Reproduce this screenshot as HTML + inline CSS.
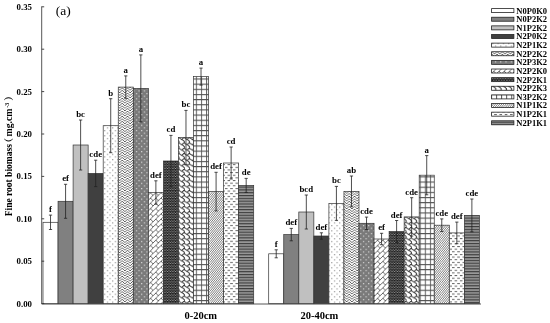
<!DOCTYPE html>
<html><head><meta charset="utf-8"><title>Fine root biomass</title>
<style>
html,body{margin:0;padding:0;background:#fff;}
body{width:550px;height:323px;overflow:hidden;}
svg{display:block;}
text{font-family:"Liberation Serif","Noto Serif CJK SC",serif;fill:#000;}
.b{font-weight:bold;}
</style></head><body>
<svg width="550" height="323" viewBox="0 0 550 323">
<defs>

<pattern id="p0" width="8" height="8" patternUnits="userSpaceOnUse"><rect width="8" height="8" fill="#fff"/></pattern>
<pattern id="p1" width="8" height="8" patternUnits="userSpaceOnUse"><rect width="8" height="8" fill="#808080"/></pattern>
<pattern id="p2" width="8" height="8" patternUnits="userSpaceOnUse"><rect width="8" height="8" fill="#c0c0c0"/></pattern>
<pattern id="p3" width="8" height="8" patternUnits="userSpaceOnUse"><rect width="8" height="8" fill="#404040"/></pattern>
<pattern id="p4" width="8" height="8" patternUnits="userSpaceOnUse" patternTransform="translate(1.2,0.6) scale(0.66)"><rect width="8" height="8" fill="#fff"/><rect x="0.3" y="0.3" width="1.4" height="1.4" fill="#555"/><rect x="4.3" y="4.3" width="1.4" height="1.4" fill="#555"/></pattern>
<pattern id="p5" width="8" height="4" patternUnits="userSpaceOnUse" patternTransform="translate(0.8,0) scale(0.66,0.645)"><rect width="8" height="4" fill="#fff"/><path d="M-0.5,-0.5 L4,4 L8.5,-0.5 M-0.5,3.5 L0,4 M8,4 L8.5,3.5" fill="none" stroke="#3a3a3a" stroke-width="1.2"/></pattern>
<pattern id="p6" width="8" height="8" patternUnits="userSpaceOnUse" patternTransform="translate(1.2,0.6) scale(0.66)"><rect width="8" height="8" fill="#7a7a7a"/><rect x="0.2" y="0.2" width="1.5" height="1.5" fill="#fff"/><rect x="4.2" y="4.2" width="1.5" height="1.5" fill="#fff"/></pattern>
<pattern id="p7" width="8" height="8" patternUnits="userSpaceOnUse" patternTransform="scale(0.66)"><rect width="8" height="8" fill="#fff"/><path d="M-1,9 L9,-1 M4,4 L8,8" fill="none" stroke="#222" stroke-width="1.0"/></pattern>
<pattern id="p8" width="8" height="8" patternUnits="userSpaceOnUse" patternTransform="scale(0.66)"><rect width="8" height="8" fill="#161616"/><rect x="-1" y="1" width="2" height="1" fill="#d4d4d4"/><rect x="3" y="1" width="2" height="1" fill="#d4d4d4"/><rect x="7" y="1" width="2" height="1" fill="#d4d4d4"/><rect x="-1" y="5" width="2" height="1" fill="#d4d4d4"/><rect x="3" y="5" width="2" height="1" fill="#d4d4d4"/><rect x="7" y="5" width="2" height="1" fill="#d4d4d4"/><rect x="1" y="3" width="2" height="1" fill="#d4d4d4"/><rect x="5" y="3" width="2" height="1" fill="#d4d4d4"/><rect x="1" y="7" width="2" height="1" fill="#d4d4d4"/><rect x="5" y="7" width="2" height="1" fill="#d4d4d4"/></pattern>
<pattern id="p9" width="8" height="8" patternUnits="userSpaceOnUse" patternTransform="scale(0.66)"><rect width="8" height="8" fill="#fff"/><path d="M-1.5,0.5 L0.5,1.5 L3.5,3.5 L6.5,0.5 L8.5,1.5 M3.5,3.5 L5.5,4.5 L7.5,6.5 L7.5,8.5 M7.5,-1.5 L7.5,0.8" fill="none" stroke="#222" stroke-width="1.35" stroke-linejoin="round"/></pattern>
<pattern id="p10" width="8" height="8" patternUnits="userSpaceOnUse" patternTransform="translate(2.47,1.2) scale(0.636,0.644)"><rect width="8" height="8" fill="#fff"/><path d="M0.8,0 V8 M0,0.8 H8" fill="none" stroke="#505050" stroke-width="1.45"/></pattern>
<pattern id="p11" width="21.0" height="26.0" patternUnits="userSpaceOnUse"><rect width="21.0" height="26.0" fill="#fff"/><path d="M0,2.60 L2.10,0 M0,5.20 L4.20,0 M0,7.80 L6.30,0 M0,10.40 L8.40,0 M0,13.00 L10.50,0 M0,15.60 L12.60,0 M0,18.20 L14.70,0 M0,20.80 L16.80,0 M0,23.40 L18.90,0 M0,26.00 L21.00,0 M0,28.60 L23.10,0 M0,31.20 L25.20,0 M0,33.80 L27.30,0 M0,36.40 L29.40,0 M0,39.00 L31.50,0 M0,41.60 L33.60,0 M0,44.20 L35.70,0 M0,46.80 L37.80,0 M0,49.40 L39.90,0" fill="none" stroke="#333" stroke-width="0.62"/></pattern>
<pattern id="p12" width="8" height="8" patternUnits="userSpaceOnUse" patternTransform="translate(0.5,0.5) scale(0.66)"><rect width="8" height="8" fill="#fff"/><rect x="0" y="0" width="4" height="1.5" fill="#666"/><rect x="4" y="4" width="4" height="1.5" fill="#666"/></pattern>
<pattern id="p13" width="8" height="4" patternUnits="userSpaceOnUse" patternTransform="translate(0,0.4) scale(0.66,0.705)"><rect width="8" height="4" fill="#9c9c9c"/><rect y="0" width="8" height="1.7" fill="#3c3c3c"/></pattern>

</defs>
<rect width="550" height="323" fill="#fff"/>
<rect x="43.00" y="222.30" width="15.05" height="81.40" fill="url(#p0)" stroke="#333" stroke-width="0.7"/>
<rect x="58.05" y="201.30" width="15.05" height="102.40" fill="url(#p1)" stroke="#333" stroke-width="0.7"/>
<rect x="73.10" y="145.00" width="15.05" height="158.70" fill="url(#p2)" stroke="#333" stroke-width="0.7"/>
<rect x="88.15" y="173.40" width="15.05" height="130.30" fill="url(#p3)" stroke="#333" stroke-width="0.7"/>
<rect x="103.20" y="125.70" width="15.05" height="178.00" fill="url(#p4)" stroke="#333" stroke-width="0.7"/>
<rect x="118.25" y="87.10" width="15.05" height="216.60" fill="url(#p5)" stroke="#333" stroke-width="0.7"/>
<rect x="133.30" y="88.40" width="15.05" height="215.30" fill="url(#p6)" stroke="#333" stroke-width="0.7"/>
<rect x="148.35" y="192.50" width="15.05" height="111.20" fill="url(#p7)" stroke="#333" stroke-width="0.7"/>
<rect x="163.40" y="161.00" width="15.05" height="142.70" fill="url(#p8)" stroke="#333" stroke-width="0.7"/>
<rect x="178.45" y="137.40" width="15.05" height="166.30" fill="url(#p9)" stroke="#333" stroke-width="0.7"/>
<rect x="193.50" y="76.60" width="15.05" height="227.10" fill="url(#p10)" stroke="#333" stroke-width="0.7"/>
<rect x="208.55" y="191.60" width="15.05" height="112.10" fill="url(#p11)" stroke="#333" stroke-width="0.7"/>
<rect x="223.60" y="163.00" width="15.05" height="140.70" fill="url(#p12)" stroke="#333" stroke-width="0.7"/>
<rect x="238.65" y="185.40" width="15.05" height="118.30" fill="url(#p13)" stroke="#333" stroke-width="0.7"/>
<path d="M50.52,215.10 V229.50 M48.92,215.10 H52.12 M48.92,229.50 H52.12" stroke="#222" stroke-width="0.8" fill="none"/>
<text class="b" x="50.52" y="212.10" font-size="8.8" text-anchor="middle">f</text>
<path d="M65.58,184.30 V218.30 M63.98,184.30 H67.17 M63.98,218.30 H67.17" stroke="#222" stroke-width="0.8" fill="none"/>
<text class="b" x="65.58" y="181.30" font-size="8.8" text-anchor="middle">ef</text>
<path d="M80.62,120.00 V170.00 M79.03,120.00 H82.22 M79.03,170.00 H82.22" stroke="#222" stroke-width="0.8" fill="none"/>
<text class="b" x="80.62" y="117.00" font-size="8.8" text-anchor="middle">bc</text>
<path d="M95.68,160.20 V186.60 M94.08,160.20 H97.28 M94.08,186.60 H97.28" stroke="#222" stroke-width="0.8" fill="none"/>
<text class="b" x="95.68" y="157.20" font-size="8.8" text-anchor="middle">cde</text>
<path d="M110.73,98.70 V152.70 M109.13,98.70 H112.33 M109.13,152.70 H112.33" stroke="#222" stroke-width="0.8" fill="none"/>
<text class="b" x="110.73" y="95.70" font-size="8.8" text-anchor="middle">b</text>
<path d="M125.78,75.90 V98.30 M124.18,75.90 H127.38 M124.18,98.30 H127.38" stroke="#222" stroke-width="0.8" fill="none"/>
<text class="b" x="125.78" y="72.90" font-size="8.8" text-anchor="middle">a</text>
<path d="M140.83,54.90 V121.90 M139.23,54.90 H142.43 M139.23,121.90 H142.43" stroke="#222" stroke-width="0.8" fill="none"/>
<text class="b" x="140.83" y="51.90" font-size="8.8" text-anchor="middle">a</text>
<path d="M155.88,180.80 V204.20 M154.28,180.80 H157.48 M154.28,204.20 H157.48" stroke="#222" stroke-width="0.8" fill="none"/>
<text class="b" x="155.88" y="177.80" font-size="8.8" text-anchor="middle">def</text>
<path d="M170.93,135.40 V186.60 M169.33,135.40 H172.53 M169.33,186.60 H172.53" stroke="#222" stroke-width="0.8" fill="none"/>
<text class="b" x="170.93" y="132.40" font-size="8.8" text-anchor="middle">cd</text>
<path d="M185.98,110.40 V164.40 M184.38,110.40 H187.58 M184.38,164.40 H187.58" stroke="#222" stroke-width="0.8" fill="none"/>
<text class="b" x="185.98" y="107.40" font-size="8.8" text-anchor="middle">bc</text>
<path d="M201.03,68.10 V85.10 M199.43,68.10 H202.62 M199.43,85.10 H202.62" stroke="#222" stroke-width="0.8" fill="none"/>
<text class="b" x="201.03" y="65.10" font-size="8.8" text-anchor="middle">a</text>
<path d="M216.08,172.30 V210.90 M214.48,172.30 H217.68 M214.48,210.90 H217.68" stroke="#222" stroke-width="0.8" fill="none"/>
<text class="b" x="216.08" y="169.30" font-size="8.8" text-anchor="middle">def</text>
<path d="M231.13,147.00 V179.00 M229.53,147.00 H232.73 M229.53,179.00 H232.73" stroke="#222" stroke-width="0.8" fill="none"/>
<text class="b" x="231.13" y="144.00" font-size="8.8" text-anchor="middle">cd</text>
<path d="M246.18,178.40 V192.40 M244.58,178.40 H247.78 M244.58,192.40 H247.78" stroke="#222" stroke-width="0.8" fill="none"/>
<text class="b" x="246.18" y="175.40" font-size="8.8" text-anchor="middle">de</text>
<rect x="268.70" y="253.80" width="15.05" height="49.90" fill="url(#p0)" stroke="#333" stroke-width="0.7"/>
<rect x="283.75" y="234.60" width="15.05" height="69.10" fill="url(#p1)" stroke="#333" stroke-width="0.7"/>
<rect x="298.80" y="212.00" width="15.05" height="91.70" fill="url(#p2)" stroke="#333" stroke-width="0.7"/>
<rect x="313.85" y="236.00" width="15.05" height="67.70" fill="url(#p3)" stroke="#333" stroke-width="0.7"/>
<rect x="328.90" y="203.40" width="15.05" height="100.30" fill="url(#p4)" stroke="#333" stroke-width="0.7"/>
<rect x="343.95" y="191.40" width="15.05" height="112.30" fill="url(#p5)" stroke="#333" stroke-width="0.7"/>
<rect x="359.00" y="223.30" width="15.05" height="80.40" fill="url(#p6)" stroke="#333" stroke-width="0.7"/>
<rect x="374.05" y="239.00" width="15.05" height="64.70" fill="url(#p7)" stroke="#333" stroke-width="0.7"/>
<rect x="389.10" y="231.50" width="15.05" height="72.20" fill="url(#p8)" stroke="#333" stroke-width="0.7"/>
<rect x="404.15" y="216.90" width="15.05" height="86.80" fill="url(#p9)" stroke="#333" stroke-width="0.7"/>
<rect x="419.20" y="175.20" width="15.05" height="128.50" fill="url(#p10)" stroke="#333" stroke-width="0.7"/>
<rect x="434.25" y="225.20" width="15.05" height="78.50" fill="url(#p11)" stroke="#333" stroke-width="0.7"/>
<rect x="449.30" y="232.90" width="15.05" height="70.80" fill="url(#p12)" stroke="#333" stroke-width="0.7"/>
<rect x="464.35" y="215.40" width="15.05" height="88.30" fill="url(#p13)" stroke="#333" stroke-width="0.7"/>
<path d="M276.22,249.80 V257.80 M274.62,249.80 H277.82 M274.62,257.80 H277.82" stroke="#222" stroke-width="0.8" fill="none"/>
<text class="b" x="276.22" y="246.80" font-size="8.8" text-anchor="middle">f</text>
<path d="M291.27,228.40 V240.80 M289.67,228.40 H292.88 M289.67,240.80 H292.88" stroke="#222" stroke-width="0.8" fill="none"/>
<text class="b" x="291.27" y="225.40" font-size="8.8" text-anchor="middle">def</text>
<path d="M306.32,195.00 V229.00 M304.72,195.00 H307.93 M304.72,229.00 H307.93" stroke="#222" stroke-width="0.8" fill="none"/>
<text class="b" x="306.32" y="192.00" font-size="8.8" text-anchor="middle">bcd</text>
<path d="M321.38,232.80 V239.20 M319.77,232.80 H322.98 M319.77,239.20 H322.98" stroke="#222" stroke-width="0.8" fill="none"/>
<text class="b" x="321.38" y="229.80" font-size="8.8" text-anchor="middle">def</text>
<path d="M336.42,186.40 V220.40 M334.82,186.40 H338.02 M334.82,220.40 H338.02" stroke="#222" stroke-width="0.8" fill="none"/>
<text class="b" x="336.42" y="183.40" font-size="8.8" text-anchor="middle">bc</text>
<path d="M351.47,176.00 V206.80 M349.87,176.00 H353.07 M349.87,206.80 H353.07" stroke="#222" stroke-width="0.8" fill="none"/>
<text class="b" x="351.47" y="173.00" font-size="8.8" text-anchor="middle">ab</text>
<path d="M366.52,217.10 V229.50 M364.92,217.10 H368.12 M364.92,229.50 H368.12" stroke="#222" stroke-width="0.8" fill="none"/>
<text class="b" x="366.52" y="214.10" font-size="8.8" text-anchor="middle">cde</text>
<path d="M381.57,233.30 V244.70 M379.97,233.30 H383.18 M379.97,244.70 H383.18" stroke="#222" stroke-width="0.8" fill="none"/>
<text class="b" x="381.57" y="230.30" font-size="8.8" text-anchor="middle">ef</text>
<path d="M396.62,220.50 V242.50 M395.02,220.50 H398.23 M395.02,242.50 H398.23" stroke="#222" stroke-width="0.8" fill="none"/>
<text class="b" x="396.62" y="217.50" font-size="8.8" text-anchor="middle">def</text>
<path d="M411.67,197.70 V236.10 M410.07,197.70 H413.27 M410.07,236.10 H413.27" stroke="#222" stroke-width="0.8" fill="none"/>
<text class="b" x="411.67" y="194.70" font-size="8.8" text-anchor="middle">cde</text>
<path d="M426.72,155.60 V194.80 M425.12,155.60 H428.32 M425.12,194.80 H428.32" stroke="#222" stroke-width="0.8" fill="none"/>
<text class="b" x="426.72" y="152.60" font-size="8.8" text-anchor="middle">a</text>
<path d="M441.77,218.90 V231.50 M440.17,218.90 H443.38 M440.17,231.50 H443.38" stroke="#222" stroke-width="0.8" fill="none"/>
<text class="b" x="441.77" y="215.90" font-size="8.8" text-anchor="middle">cde</text>
<path d="M456.82,222.10 V243.70 M455.22,222.10 H458.43 M455.22,243.70 H458.43" stroke="#222" stroke-width="0.8" fill="none"/>
<text class="b" x="456.82" y="219.10" font-size="8.8" text-anchor="middle">def</text>
<path d="M471.88,199.00 V231.80 M470.27,199.00 H473.48 M470.27,231.80 H473.48" stroke="#222" stroke-width="0.8" fill="none"/>
<text class="b" x="471.88" y="196.00" font-size="8.8" text-anchor="middle">cde</text>
<g transform="translate(0,0.9)">
<path d="M41.7,5.5 V303.10 H481" stroke="#444" stroke-width="0.9" fill="none"/>
<path d="M41.7,302.70 H44.2" stroke="#333" stroke-width="0.9"/>
<text class="b" x="32" y="305.70" font-size="8.8" text-anchor="end">0.00</text>
<path d="M41.7,260.30 H44.2" stroke="#333" stroke-width="0.9"/>
<text class="b" x="32" y="263.30" font-size="8.8" text-anchor="end">0.05</text>
<path d="M41.7,217.90 H44.2" stroke="#333" stroke-width="0.9"/>
<text class="b" x="32" y="220.90" font-size="8.8" text-anchor="end">0.10</text>
<path d="M41.7,175.50 H44.2" stroke="#333" stroke-width="0.9"/>
<text class="b" x="32" y="178.50" font-size="8.8" text-anchor="end">0.15</text>
<path d="M41.7,133.10 H44.2" stroke="#333" stroke-width="0.9"/>
<text class="b" x="32" y="136.10" font-size="8.8" text-anchor="end">0.20</text>
<path d="M41.7,90.70 H44.2" stroke="#333" stroke-width="0.9"/>
<text class="b" x="32" y="93.70" font-size="8.8" text-anchor="end">0.25</text>
<path d="M41.7,48.30 H44.2" stroke="#333" stroke-width="0.9"/>
<text class="b" x="32" y="51.30" font-size="8.8" text-anchor="end">0.30</text>
<path d="M41.7,5.90 H44.2" stroke="#333" stroke-width="0.9"/>
<text class="b" x="32" y="8.90" font-size="8.8" text-anchor="end">0.35</text>
</g>
<g class="b" transform="translate(12.0,216.3) rotate(-90)"><text x="0" y="0" font-size="9.5">Fine root biomass</text><text x="68.7" y="0" font-size="9.5">（</text><text x="79.8" y="0" font-size="9.8">mg.cm</text><text x="108.6" y="-3.4" font-size="6">-3</text><text x="115.5" y="0" font-size="9.5">）</text></g>
<text class="b" x="184.4" y="319.3" font-size="10.5">0-20cm</text>
<text class="b" x="300.4" y="319.3" font-size="10.5">20-40cm</text>
<text x="55.7" y="14.8" font-size="13.5">(a)</text>
<rect x="491.6" y="8.60" width="22.3" height="4" fill="url(#p0)" stroke="#222" stroke-width="0.8"/>
<text class="b" x="516.3" y="13.50" font-size="8.5">N0P0K0</text>
<rect x="491.6" y="17.23" width="22.3" height="4" fill="url(#p1)" stroke="#222" stroke-width="0.8"/>
<text class="b" x="516.3" y="22.13" font-size="8.5">N0P2K2</text>
<rect x="491.6" y="25.86" width="22.3" height="4" fill="url(#p2)" stroke="#222" stroke-width="0.8"/>
<text class="b" x="516.3" y="30.76" font-size="8.5">N1P2K2</text>
<rect x="491.6" y="34.49" width="22.3" height="4" fill="url(#p3)" stroke="#222" stroke-width="0.8"/>
<text class="b" x="516.3" y="39.39" font-size="8.5">N2P0K2</text>
<rect x="491.6" y="43.12" width="22.3" height="4" fill="url(#p4)" stroke="#222" stroke-width="0.8"/>
<text class="b" x="516.3" y="48.02" font-size="8.5">N2P1K2</text>
<rect x="491.6" y="51.75" width="22.3" height="4" fill="url(#p5)" stroke="#222" stroke-width="0.8"/>
<text class="b" x="516.3" y="56.65" font-size="8.5">N2P2K2</text>
<rect x="491.6" y="60.38" width="22.3" height="4" fill="url(#p6)" stroke="#222" stroke-width="0.8"/>
<text class="b" x="516.3" y="65.28" font-size="8.5">N2P3K2</text>
<rect x="491.6" y="69.01" width="22.3" height="4" fill="url(#p7)" stroke="#222" stroke-width="0.8"/>
<text class="b" x="516.3" y="73.91" font-size="8.5">N2P2K0</text>
<rect x="491.6" y="77.64" width="22.3" height="4" fill="url(#p8)" stroke="#222" stroke-width="0.8"/>
<text class="b" x="516.3" y="82.54" font-size="8.5">N2P2K1</text>
<rect x="491.6" y="86.27" width="22.3" height="4" fill="url(#p9)" stroke="#222" stroke-width="0.8"/>
<text class="b" x="516.3" y="91.17" font-size="8.5">N2P2K3</text>
<rect x="491.6" y="94.90" width="22.3" height="4" fill="url(#p10)" stroke="#222" stroke-width="0.8"/>
<text class="b" x="516.3" y="99.80" font-size="8.5">N3P2K2</text>
<rect x="491.6" y="103.53" width="22.3" height="4" fill="url(#p11)" stroke="#222" stroke-width="0.8"/>
<text class="b" x="516.3" y="108.43" font-size="8.5">N1P1K2</text>
<rect x="491.6" y="112.16" width="22.3" height="4" fill="url(#p12)" stroke="#222" stroke-width="0.8"/>
<text class="b" x="516.3" y="117.06" font-size="8.5">N1P2K1</text>
<rect x="491.6" y="120.79" width="22.3" height="4" fill="url(#p13)" stroke="#222" stroke-width="0.8"/>
<text class="b" x="516.3" y="125.69" font-size="8.5">N2P1K1</text>
</svg></body></html>
